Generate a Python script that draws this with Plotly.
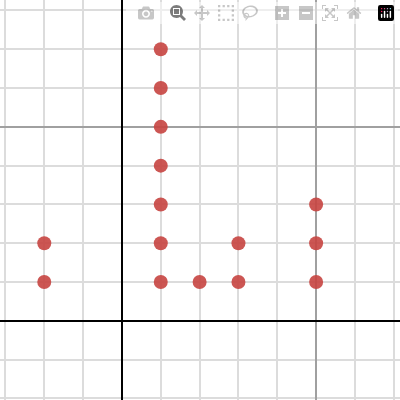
import plotly.graph_objects as go

xs = [-2, -2, 1, 1, 1, 1, 1, 1, 1, 2, 3, 3, 5, 5, 5]
ys = [1, 2, 1, 2, 3, 4, 5, 6, 7, 1, 1, 2, 1, 2, 3]

fig = go.Figure(go.Scatter(x=xs, y=ys, mode="markers",
                           marker=dict(size=14, color="#c74440", opacity=0.9)))
ax = dict(showticklabels=False, ticks="", dtick=5, tick0=0, gridcolor="#a0a0a0", gridwidth=1.5,
          zeroline=True, zerolinecolor="black", zerolinewidth=1.5,
          minor=dict(dtick=1, tick0=0, gridcolor="#dcdcdc", gridwidth=1.5, showgrid=True),
          showline=False)
fig.update_layout(width=400, height=400, margin=dict(l=0, r=0, t=0, b=0),
                  plot_bgcolor="white", paper_bgcolor="white", showlegend=False,
                  xaxis=dict(range=[-3.14, 7.16], **ax),
                  yaxis=dict(range=[-2.04, 8.27], **ax))
fig.write_html("out.html", post_script="document.body.style.margin='0';document.body.style.padding='0';")
